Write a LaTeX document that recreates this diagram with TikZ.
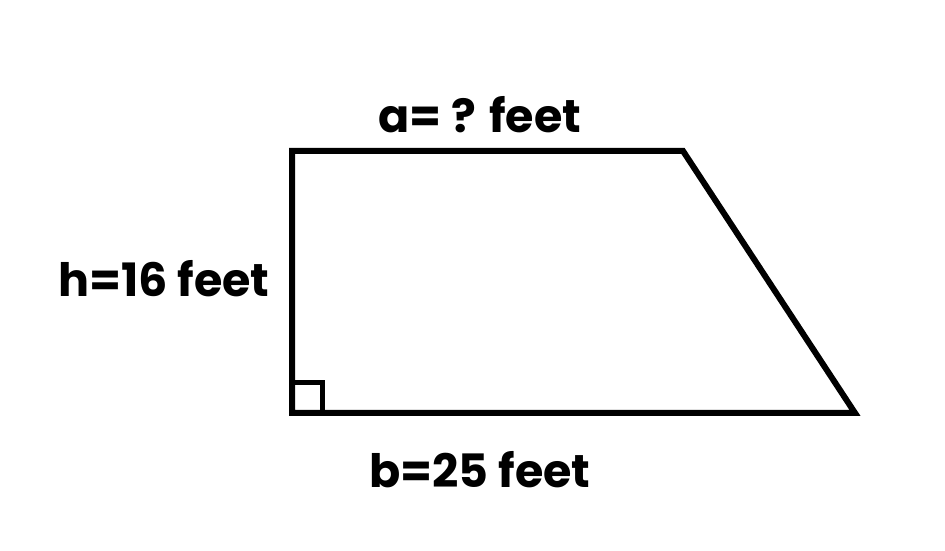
\documentclass[tikz,border=0pt]{standalone}
\usepackage{fontspec}
\setmainfont{Poppins}
\begin{document}
\begin{tikzpicture}[x=1pt,y=1pt,
  edge/.style={line width=6pt,line cap=rect,line join=miter},
  lbl/.style={font=\fontsize{46}{54}\selectfont\bfseries,inner sep=0pt,anchor=base}]
\useasboundingbox (0,0) rectangle (945,551);
\coordinate (TL) at (292,400);
\coordinate (TR) at (683,400);
\coordinate (BR) at (855,138);
\coordinate (BL) at (292,138);
\draw[edge] (BL) -- (TL) -- (TR) -- (BR) -- cycle;
\coordinate (S1) at (292,168);
\coordinate (S2) at (322,168);
\coordinate (S3) at (322,138);
\draw[line width=5pt] (S1) -- (S2) -- (S3);
\node[lbl] (a) at (480,418) {a= ? feet};
\node[lbl] (h) at (164,254) {h=16 feet};
\node[lbl] (b) at (480,63) {b=25 feet};
\end{tikzpicture}
\end{document}
